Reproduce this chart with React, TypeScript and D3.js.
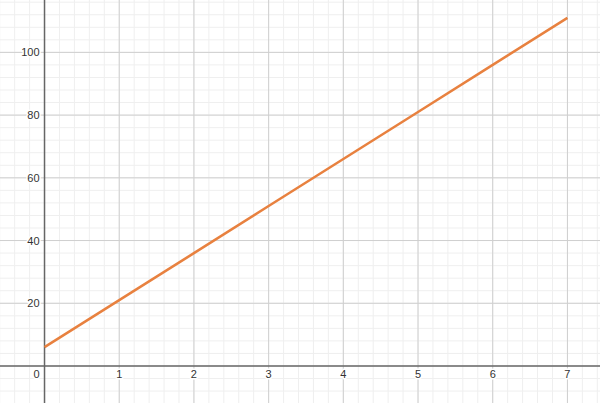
import React from 'react';
import * as d3 from 'd3';

// line y = 15x + 6 at each integer x
const xValues = [0, 1, 2, 3, 4, 5, 6, 7];
const yValues = [6, 21, 36, 51, 66, 81, 96, 111];

const xTickLabels = ['0', '1', '2', '3', '4', '5', '6', '7'];
const yTickValues = [20, 40, 60, 80, 100];

const W = 600;
const H = 403;

const App: React.FC = () => {
  const x = d3.scaleLinear().domain([-0.596, 7.436]).range([0, W]);
  const y = d3.scaleLinear().domain([-11.8, 116.7]).range([H, 0]);

  const minorX = d3.range(-0.6, 7.5, 0.2).map(v => +v.toFixed(2));
  const minorY = d3.range(-8, 117, 4);
  const majorX = d3.range(-0, 8, 1);
  const majorY = d3.range(20, 117, 20);

  const line = d3.line<number>()
    .x((_, i) => x(xValues[i]))
    .y(d => y(d));

  const labelStyle: React.CSSProperties = {
    fontFamily: 'Arial, "Liberation Sans", sans-serif',
    fontSize: '11px',
    fill: '#333',
    stroke: '#fff',
    strokeWidth: 3,
    paintOrder: 'stroke',
    strokeLinejoin: 'round',
  };

  return (
    <div style={{ position: 'absolute', left: 0, top: 0 }}>
      <svg width={W} height={H} style={{ display: 'block', background: '#fff' }}>
        {/* minor grid */}
        <g stroke="#efefef" strokeWidth={1}>
          {minorX.map(v => (
            <line key={'mx' + v} x1={x(v)} x2={x(v)} y1={0} y2={H} />
          ))}
          {minorY.map(v => (
            <line key={'my' + v} x1={0} x2={W} y1={y(v)} y2={y(v)} />
          ))}
        </g>
        {/* major grid */}
        <g stroke="#cfcfcf" strokeWidth={1}>
          {majorX.filter(v => v !== 0).map(v => (
            <line key={'Mx' + v} x1={x(v)} x2={x(v)} y1={0} y2={H} />
          ))}
          {majorY.map(v => (
            <line key={'My' + v} x1={0} x2={W} y1={y(v)} y2={y(v)} />
          ))}
        </g>
        {/* axes */}
        <g stroke="#666" strokeWidth={1.5}>
          <line x1={x(0)} x2={x(0)} y1={0} y2={H} />
          <line x1={0} x2={W} y1={y(0)} y2={y(0)} />
        </g>
        {/* tick labels */}
        <g>
          {xValues.map((v, i) => (
            <text
              key={'xl' + v}
              x={v === 0 ? x(0) - 8 : x(v)}
              y={y(0) + 12.5}
              textAnchor="middle"
              style={labelStyle}
            >
              {xTickLabels[i]}
            </text>
          ))}
          {yTickValues.map(v => (
            <text
              key={'yl' + v}
              x={x(0) - 5}
              y={y(v) + 4}
              textAnchor="end"
              style={labelStyle}
            >
              {v}
            </text>
          ))}
        </g>
        {/* the line */}
        <path
          d={line(yValues) || ''}
          fill="none"
          stroke="#e8813f"
          strokeWidth={2.5}
          strokeLinecap="butt"
        />
      </svg>
    </div>
  );
};

export default App;
